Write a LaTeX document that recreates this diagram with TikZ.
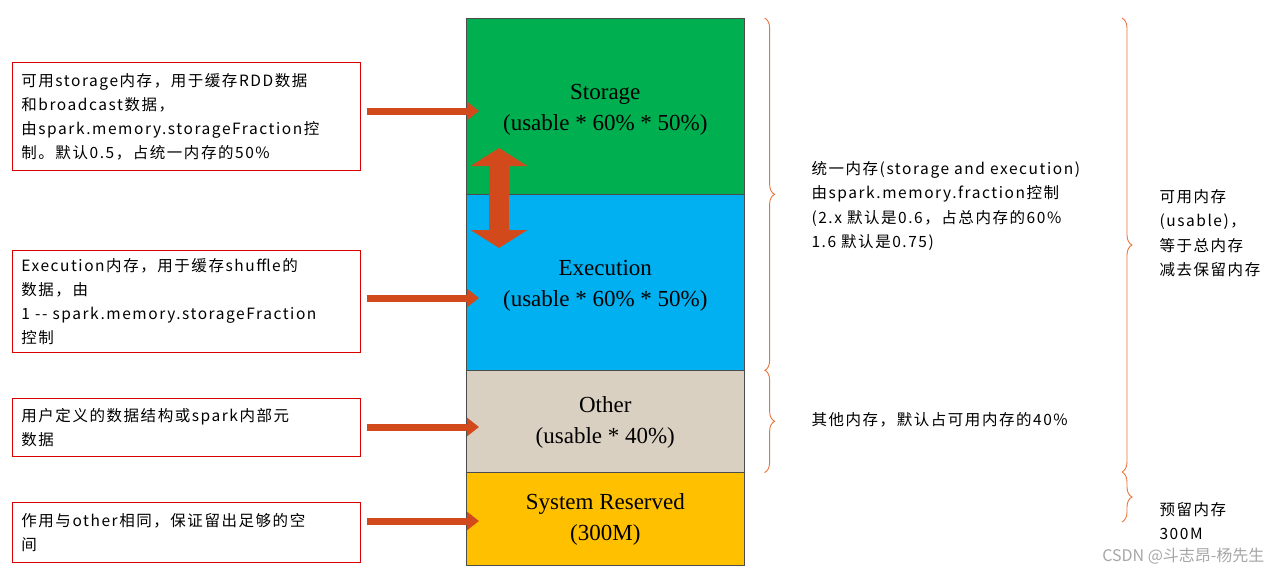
\documentclass[tikz,border=0pt]{standalone}
\usepackage{fontspec}
\setmainfont{Liberation Serif}
\newfontfamily\cjk[LetterSpace=10]{Noto Sans CJK SC}
\newfontfamily\cjkw{Noto Sans CJK SC}
\usetikzlibrary{arrows.meta,decorations.pathreplacing,calc}
\definecolor{arr}{HTML}{D24A1C}
\definecolor{brc}{HTML}{E8743B}
\tikzset{
 x=1pt,y=-1pt,
 mem/.style={draw=black!70,line width=0.6pt,minimum width=278pt,anchor=north west,inner sep=0pt},
 memtxt/.style={inner sep=0pt,font=\fontsize{23}{31}\selectfont,align=center},
 note/.style={draw=red!85!black,line width=0.8pt,anchor=north west,minimum width=348pt,inner sep=0pt,text width=330pt,align=left,font=\cjk\fontsize{15.5}{24}\selectfont},
 blk/.style={arr,line width=7pt,-{Triangle[length=12pt,width=18pt]}},
 br/.style={brc,line width=0.9pt,decorate,decoration={brace,amplitude=10pt}},
 lab/.style={anchor=west,align=left,font=\cjk\fontsize{15.5}{24.5}\selectfont}
}
\begin{document}
\begin{tikzpicture}
\useasboundingbox (0,0) rectangle (1282,576);
\node[mem,fill={rgb,255:red,0;green,176;blue,80},minimum height=176pt] (st) at (466,18) {};
\node[mem,fill={rgb,255:red,0;green,176;blue,240},minimum height=176pt] (ex) at (466,194) {};
\node[mem,fill={rgb,255:red,217;green,208;blue,193},minimum height=102pt] (ot) at (466,370) {};
\node[mem,fill={rgb,255:red,255;green,192;blue,0},minimum height=93pt] (sr) at (466,472) {};
\node[memtxt] (stt) at ($(st.center)+(0,4)$) {Storage\\(usable * 60\% * 50\%)};
\node[memtxt] (ext) at ($(ex.center)+(0,4)$) {Execution\\(usable * 60\% * 50\%)};
\node[memtxt] (ott) at ($(ot.center)+(0,1)$) {Other\\(usable * 40\%)};
\node[memtxt] (srt) at ($(sr.center)+(0,1)$) {System Reserved\\(300M)};

\node[note,minimum height=108pt] (n1) at (12,62) {可用storage内存，用于缓存RDD数据\\和broadcast数据，\\由spark.memory.storageFraction控\\制。默认0.5，占统一内存的50\%};
\node[note,minimum height=102pt] (n2) at (12,250) {Execution内存，用于缓存shuffle的\\数据，由\\1 -- spark.memory.storageFraction\\控制};
\node[note,minimum height=58pt] (n3) at (12,398) {用户定义的数据结构或spark内部元\\数据};
\node[note,minimum height=60pt] (n4) at (12,502) {作用与other相同，保证留出足够的空\\间};

\coordinate (a1) at (479,111); \coordinate (a2) at (479,298);
\coordinate (a3) at (479,427); \coordinate (a4) at (479,521);
\draw[blk] ($(n1.east|-a1)+(6,0)$) -- (a1);
\draw[blk] ($(n2.east|-a2)+(6,0)$) -- (a2);
\draw[blk] ($(n3.east|-a3)+(6,0)$) -- (a3);
\draw[blk] ($(n4.east|-a4)+(6,0)$) -- (a4);
\coordinate (d1) at (499,148); \coordinate (d2) at (499,248);
\draw[arr,line width=20pt,{Triangle[length=18pt,width=56pt]}-{Triangle[length=18pt,width=56pt]}] (d1) -- (d2);

\draw[br] ($(st.north east)+(20,0)$) -- ($(ex.south east)+(20,0)$);
\draw[br] ($(ot.north east)+(20,0)$) -- ($(ot.south east)+(20,0)$);
\draw[br] (1122,18) -- (1122,472);
\draw[br] (1122,472) -- (1122,522);

\node[lab] (l1) at (808,206) {统一内存(storage and execution)\\由spark.memory.fraction控制\\(2.x 默认是0.6，占总内存的60\%\\1.6 默认是0.75)};
\node[lab] (l2) at (808,420) {其他内存，默认占可用内存的40\%};
\node[lab] (l3) at (1156,233) {可用内存\\(usable)，\\等于总内存\\减去保留内存};
\node[lab] (l4) at (1156,521) {预留内存\\300M};
\node[anchor=east,text=black!35,font=\cjkw\fontsize{16}{18}\selectfont] (wm) at (1268,556) {CSDN @斗志昂-杨先生};
\end{tikzpicture}
\end{document}
